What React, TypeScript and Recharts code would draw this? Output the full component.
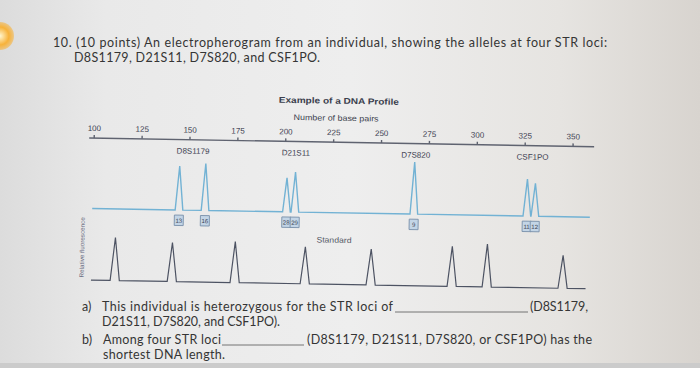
import React from 'react';
import { ComposedChart, Line, Scatter, XAxis, YAxis } from 'recharts';

// ---- data ----
const TICKS = [100, 125, 150, 175, 200, 225, 250, 275, 300, 325, 350];
const LOCI = ['D8S1179', 'D21S11', 'D7S820', 'CSF1PO'];
const LOCI_BP = [151.7, 205.4, 268, 329];
const ALLELE_LABELS = ['13', '16', '28', '29', '9', '11', '12'];
const ALLELE_BP = [144.9, 158.5, 201.0, 205.4, 267.5, 326.5, 330.7];
const ALLELE_HEIGHT = [44, 47, 34, 40, 52, 37, 33];
const STD_BP = [112, 141.8, 174.6, 211.2, 245.6, 287.9, 306.2, 345.8];
const STD_HEIGHT = [43, 39, 41, 37, 36, 40, 43, 33];
const BLUE_RANGE = [99.6, 359.4];
const STD_RANGE = [99.6, 357.8];

function buildTrace(bps: number[], hs: number[], half: number, range: number[]) {
  const pts: { bp: number; v: number }[] = [{ bp: range[0], v: 0 }];
  bps.forEach((b, i) => {
    pts.push({ bp: b - half, v: 0 });
    pts.push({ bp: b, v: hs[i] });
    pts.push({ bp: b + half, v: 0 });
  });
  pts.push({ bp: range[1], v: 0 });
  return pts.sort((a, b) => a.bp - b.bp);
}

const blueTrace = buildTrace(ALLELE_BP, ALLELE_HEIGHT, 2.0, BLUE_RANGE);
const stdTrace = buildTrace(STD_BP, STD_HEIGHT, 2.4, STD_RANGE);
const alleleBoxes = ALLELE_BP.map((bp, i) => ({ bp, y: -10.3, label: ALLELE_LABELS[i] }));
const lociLabels = LOCI_BP.map((bp, i) => ({ bp, y: 59.5, label: LOCI[i] }));

const AlleleBox = (props: any) => {
  const { cx, cy, payload } = props;
  return (
    <g>
      <rect x={cx - 4.5} y={cy - 5.2} width={9} height={10.4} fill="#c3d5e6" stroke="#7890aa" strokeWidth={0.9} />
      <text x={cx} y={cy + 2.4} fontSize={6} textAnchor="middle" fill="#3a4150" fontFamily="Liberation Sans">
        {payload.label}
      </text>
    </g>
  );
};

const LocusLabel = (props: any) => {
  const { cx, cy, payload } = props;
  return (
    <text x={cx} y={cy + 3} fontSize={8} textAnchor="middle" fill="#3e4252" fontFamily="Liberation Sans">
      {payload.label}
    </text>
  );
};

const Q = { fontFamily: 'Lato', fontSize: 12.5, fill: '#353535', lengthAdjust: 'spacing' } as const;

export default function App() {
  return (
    <div style={{ position: 'absolute', left: 0, top: 0, width: 700, height: 368, overflow: 'hidden',
      background: 'linear-gradient(90deg, #dcdcdc 0%, #e9e9e9 15%, #eeeeee 50%, #e6e4e1 80%, #d8d4cf 100%)' }}>
      <div style={{ position: 'absolute', left: -14, top: 22, width: 28, height: 28, borderRadius: 14,
        background: 'radial-gradient(circle, #fff6d0 0%, #f7b23a 45%, rgba(240,150,40,0) 100%)' }} />
      <div style={{ position: 'absolute', left: 0, top: 363, width: 700, height: 5, background: '#cbcbcb' }} />
      <svg width={700} height={368} style={{ position: 'absolute', left: 0, top: 0 }}>
        <text x={53} y={47} {...Q} textLength={554}>
          10. (10 points) An electropherogram from an individual, showing the alleles at four STR loci:
        </text>
        <text x={74} y={62} {...Q} textLength={246}>
          D8S1179, D21S11, D7S820, and CSF1PO.
        </text>
        <text x={82} y={311} {...Q}>a)</text>
        <text x={102} y={311} {...Q} textLength={291}>
          This individual is heterozygous for the STR loci of
        </text>
        <line x1={395} x2={528} y1={312} y2={312} stroke="#555" strokeWidth={0.8} />
        <text x={530} y={311} {...Q} textLength={58}>(D8S1179,</text>
        <text x={102} y={326} {...Q} textLength={178}>
          D21S11, D7S820, and CSF1PO).
        </text>
        <text x={82} y={344} {...Q}>b)</text>
        <text x={103} y={344} {...Q} textLength={118}>Among four STR loci</text>
        <line x1={222} x2={304} y1={345} y2={345} stroke="#555" strokeWidth={0.8} />
        <text x={307} y={344} {...Q} textLength={285}>
          (D8S1179, D21S11, D7S820, or CSF1PO)  has the
        </text>
        <text x={103} y={359} {...Q} textLength={122}>shortest DNA length.</text>
      </svg>
      <div style={{ position: 'absolute', left: 0, top: 0, width: 700, height: 368,
        transform: 'rotate(1deg)', transformOrigin: '350px 210px' }}>
        <svg width={700} height={368} style={{ position: 'absolute', left: 0, top: 0 }}>
          <text x={277} y={104} fontFamily="Liberation Sans" fontWeight="bold" fontSize={8.5} fill="#3b3f4d"
            textLength={120} lengthAdjust="spacingAndGlyphs">Example of a DNA Profile</text>
          <text x={292} y={121} fontFamily="Liberation Sans" fontSize={8} fill="#3b3f4d"
            textLength={85} lengthAdjust="spacingAndGlyphs">Number of base pairs</text>
          <text x={317} y={243} fontFamily="Liberation Sans" fontSize={8} fill="#555a66"
            textLength={35} lengthAdjust="spacingAndGlyphs">Standard</text>
          <text x={0} y={0} transform="translate(85 252) rotate(-90)" textAnchor="middle"
            fontFamily="Liberation Sans" fontSize={6.3} fill="#686a80">Relative fluorescence</text>
        </svg>
        <div style={{ position: 'absolute', left: 0, top: 0 }}>
          <ComposedChart width={700} height={368} margin={{ top: 122.5, left: 88, right: 107, bottom: 77.5 }}>
            <XAxis xAxisId="x" type="number" dataKey="bp" orientation="top" height={20}
              domain={[97.4, 361]} allowDataOverflow ticks={TICKS} interval={0}
              tickSize={3} tickMargin={4} stroke="#5f6370" strokeWidth={1.4}
              tick={{ fontSize: 8, fill: '#3e4252', fontFamily: 'Liberation Sans' }} />
            <YAxis yAxisId="b" hide width={0} domain={[-77.5, 70.5]} allowDataOverflow />
            <YAxis yAxisId="s" hide width={0} domain={[-5.9, 142.1]} allowDataOverflow />
            <Line xAxisId="x" yAxisId="b" data={blueTrace} dataKey="v" type="linear" dot={false}
              stroke="#72b2d4" strokeWidth={1.4} isAnimationActive={false} />
            <Line xAxisId="x" yAxisId="s" data={stdTrace} dataKey="v" type="linear" dot={false}
              stroke="#4d5363" strokeWidth={1.2} isAnimationActive={false} />
            <Scatter xAxisId="x" yAxisId="b" data={alleleBoxes} dataKey="y" shape={AlleleBox} isAnimationActive={false} />
            <Scatter xAxisId="x" yAxisId="b" data={lociLabels} dataKey="y" shape={LocusLabel} isAnimationActive={false} />
          </ComposedChart>
        </div>
      </div>
    </div>
  );
}
